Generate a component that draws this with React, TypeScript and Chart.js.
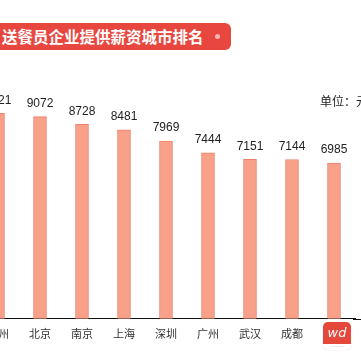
import React, { useEffect, useRef } from "react";
import { Chart, registerables } from "chart.js";

Chart.register(...registerables);

const cities = ["杭州", "北京", "南京", "上海", "深圳", "广州", "武汉", "成都", "苏州"];
const salaries = [9221, 9072, 8728, 8481, 7969, 7444, 7151, 7144, 6985];
const titleText = "送餐员企业提供薪资城市排名";
const unitText = "单位：元";

const valueLabels = {
  id: "valueLabels",
  afterDatasetsDraw(chart: any) {
    const ctx = chart.ctx;
    const meta = chart.getDatasetMeta(0);
    ctx.save();
    ctx.font = "12px 'Liberation Sans', Arial, sans-serif";
    ctx.fillStyle = "#222";
    ctx.textAlign = "center";
    ctx.textBaseline = "bottom";
    meta.data.forEach((el: any, i: number) => {
      ctx.fillText(String(salaries[i]), el.x, el.y - 7);
    });
    ctx.restore();
  },
};

const axisExtension = {
  id: "axisExtension",
  afterDraw(chart: any) {
    const ctx = chart.ctx;
    const y = chart.chartArea.bottom;
    ctx.save();
    ctx.strokeStyle = "#111";
    ctx.lineWidth = 1;
    ctx.beginPath();
    ctx.moveTo(chart.chartArea.right - 2, Math.round(y) + 0.5);
    ctx.lineTo(chart.width, Math.round(y) + 0.5);
    ctx.stroke();
    ctx.restore();
  },
};

export default function App() {
  const ref = useRef<HTMLCanvasElement>(null);
  useEffect(() => {
    if (!ref.current) return;
    const chart = new Chart(ref.current, {
      type: "bar",
      data: {
        labels: cities,
        datasets: [
          {
            data: salaries,
            backgroundColor: "#F9A088",
            borderColor: "#EE8270",
            borderWidth: 1,
            barThickness: 13,
            borderSkipped: "bottom",
          },
        ],
      },
      options: {
        animation: false,
        responsive: true,
        maintainAspectRatio: false,
        layout: { padding: { top: 0, bottom: 13, left: 0, right: 10 } },
        plugins: { legend: { display: false }, tooltip: { enabled: false } },
        scales: {
          x: {
            grid: { display: false, drawTicks: false },
            border: { display: true, color: "#111", width: 1 },
            ticks: {
              padding: 8,
              color: "#333",
              font: { size: 11, family: "'Noto Sans CJK SC', sans-serif" },
              maxRotation: 0,
              autoSkip: false,
            },
          },
          y: { display: false, min: 0, max: 14300 },
        },
      },
      plugins: [valueLabels, axisExtension],
    });
    return () => chart.destroy();
  }, []);

  return (
    <div
      style={{
        position: "fixed",
        left: 0,
        top: 0,
        width: 361,
        height: 361,
        overflow: "hidden",
        background: "#fff",
      }}
    >
      <div style={{ position: "absolute", left: -23, top: 0, width: 388, height: 361 }}>
        <canvas ref={ref} />
      </div>
      <div
        style={{
          position: "absolute",
          left: -10,
          top: 23,
          width: 241,
          height: 27,
          background: "#E8473F",
          borderRadius: 6,
          color: "#fff",
          fontFamily: "'Noto Sans CJK SC', sans-serif",
          fontWeight: 700,
          fontSize: 15.5,
          lineHeight: "27px",
          whiteSpace: "nowrap",
          boxSizing: "border-box",
          paddingLeft: 12,
        }}
      >
        {titleText}
        <span
          style={{
            position: "absolute",
            left: 225,
            top: 11,
            width: 5,
            height: 5,
            borderRadius: 3,
            background: "#F7B5B0",
          }}
        />
      </div>
      <div
        style={{
          position: "absolute",
          left: 320,
          top: 92,
          fontSize: 12,
          color: "#222",
          fontFamily: "'Noto Sans CJK SC', sans-serif",
          whiteSpace: "nowrap",
        }}
      >
        {unitText}
      </div>
      <div
        style={{
          position: "absolute",
          left: 323,
          top: 322,
          width: 28,
          height: 28,
          borderRadius: 5,
          background: "#fff",
          boxShadow: "0 0 1px rgba(0,0,0,0.2)",
          overflow: "hidden",
        }}
      >
        <div
          style={{
            height: 22,
            background: "#E5483A",
            color: "#fff",
            fontFamily: "'DejaVu Sans', sans-serif",
            fontStyle: "italic",
            fontSize: 13,
            lineHeight: "22px",
            textAlign: "center",
          }}
        >
          wd
        </div>
        <div style={{ fontSize: 4, color: "#c66", textAlign: "center", lineHeight: "6px" }}>
          ··········
        </div>
      </div>
    </div>
  );
}
